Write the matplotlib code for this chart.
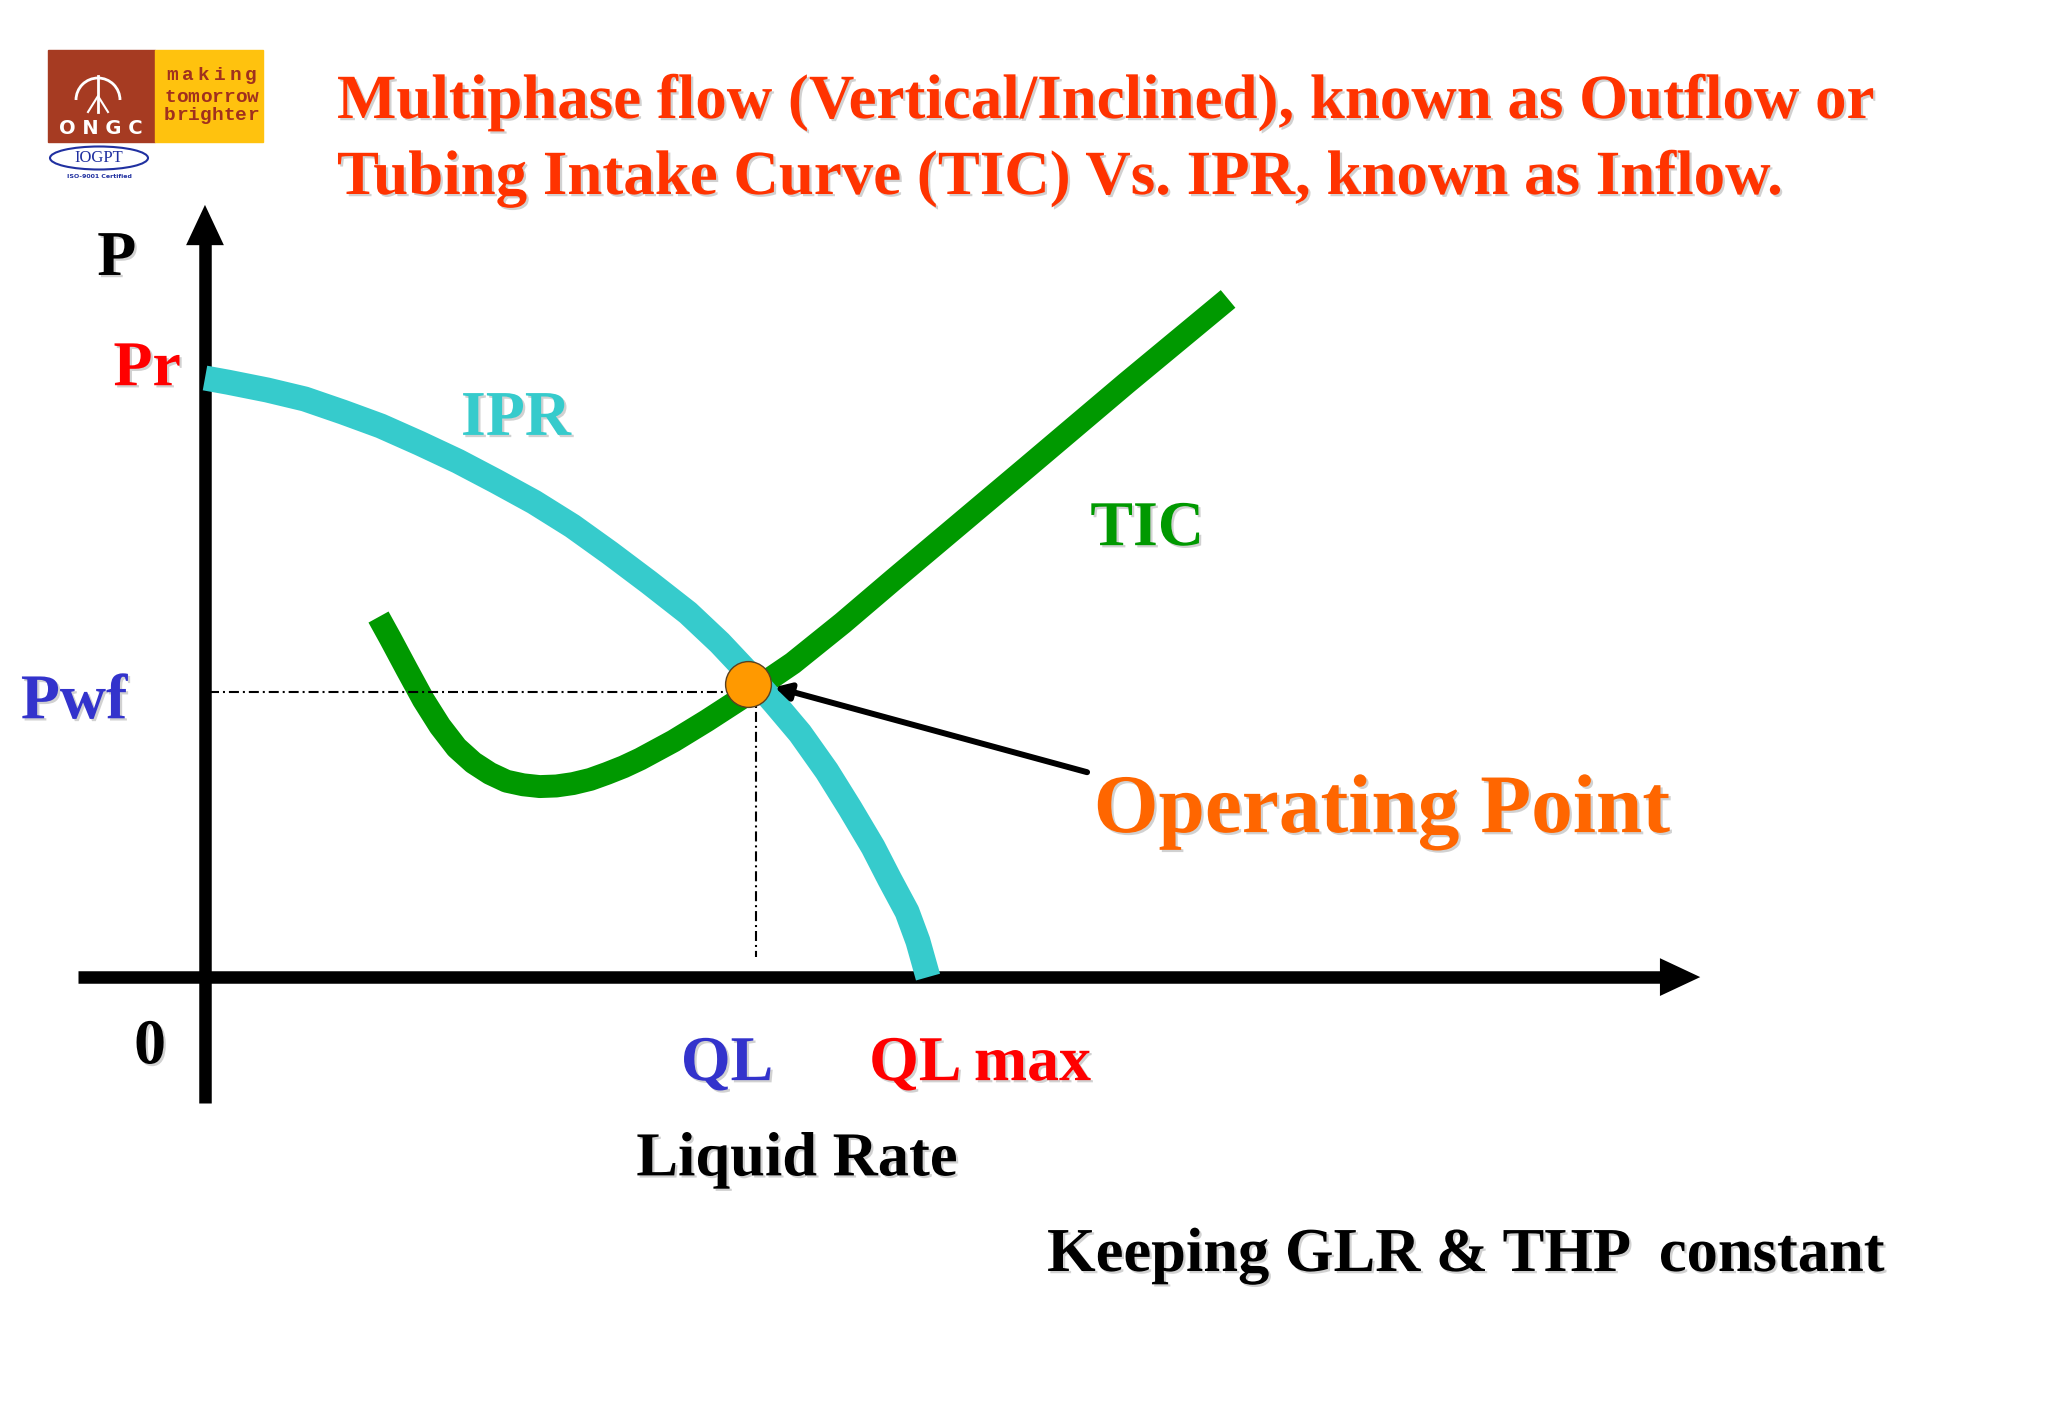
import matplotlib.pyplot as plt
import matplotlib.patheffects as pe
from matplotlib.patches import Rectangle, Ellipse, Arc

# inflow (IPR) curve: liquid rate vs pressure, Pr = 100 and QL max = 100
ipr_q = [0, 3.2, 8.6, 13.8, 19.1, 24.3, 29.7, 35.0, 40.2, 45.5, 50.8, 56.0, 61.4,
         66.8, 71.2, 75.1, 78.8, 82.3, 86.0, 89.2, 92.4, 94.7, 97.1, 98.6, 100]
ipr_p = [100, 99.3, 98.0, 96.5, 94.3, 92.0, 89.1, 86.1, 82.8, 79.3, 75.3, 70.8, 65.9,
         60.8, 55.8, 50.8, 45.7, 40.7, 34.4, 28.2, 21.7, 16.3, 10.9, 6.0, 0]

# outflow / tubing intake curve (TIC)
tic_q = [24.0, 25.6, 27.9, 30.2, 32.5, 34.8, 37.1, 39.4, 41.7, 44.0, 46.3, 48.6,
         50.9, 53.3, 55.6, 57.9, 60.2, 62.5, 64.8, 69.4, 74.0, 81.3, 88.2, 95.2,
         113.7, 127.5, 141.5]
tic_p = [60.1, 56.6, 51.4, 46.3, 41.9, 38.3, 35.8, 34.0, 32.7, 32.1, 31.8, 31.9,
         32.3, 33.0, 34.0, 35.1, 36.4, 37.9, 39.4, 42.8, 46.4, 52.4, 59.1, 66.3,
         85.1, 99.2, 113.2]

# operating point and its guide lines
op_q, op_p = 75.1, 48.9
ql, pwf = 76.2, 47.6

title_lines = ['Multiphase flow (Vertical/Inclined), known as Outflow or',
               'Tubing Intake Curve (TIC) Vs. IPR, known as Inflow.']
note = 'Keeping GLR & THP  constant'

SERIF = 'Liberation Serif'
shadow = [pe.withSimplePatchShadow(offset=(1.6, -1.6), shadow_rgbFace='#9a9a9a', alpha=0.45)]

fig = plt.figure(figsize=(20.48, 14.18), dpi=100)
fig.patch.set_facecolor('white')
ax = fig.add_axes([0, 0, 1, 1])
ax.set_xlim(-28.35, 254.9)
ax.set_ylim(-73.6, 163.1)
ax.axis('off')


def label(x, y, s, color, size=46, ha='center', **kw):
    ax.text(x, y, s, color=color, fontsize=size, family=SERIF, weight='bold',
            ha=ha, va='baseline', path_effects=shadow, **kw)


# axes drawn as thick arrows
ax.plot([0, 0], [-21.0, 124], color='k', lw=9, solid_capstyle='butt', zorder=2)
ax.plot([-17.6, 202], [0, 0], color='k', lw=9, solid_capstyle='butt', zorder=2)
head = dict(arrowstyle='-|>,head_length=1.45,head_width=0.68', mutation_scale=20,
            color='k', lw=0, shrinkA=0, shrinkB=0)
ax.annotate('', xy=(0, 128.9), xytext=(0, 110), arrowprops=head, zorder=2)
ax.annotate('', xy=(206.8, 0), xytext=(190, 0), arrowprops=head, zorder=2)

# curves
ax.plot(tic_q, tic_p, color='#009900', lw=16.5, solid_capstyle='butt',
        solid_joinstyle='round', zorder=3)
ax.plot(ipr_q, ipr_p, color='#36CBCC', lw=18, solid_capstyle='butt',
        solid_joinstyle='round', zorder=4)

# guides to Pwf and QL
dd = (0, (4.8, 1.9, 0.96, 1.9))
ax.plot([0.6, op_q], [pwf, pwf], color='k', lw=1.5, ls=dd, zorder=5)
ax.plot([ql, ql], [pwf, 3.3], color='k', lw=1.5, ls=dd, zorder=5)

ax.plot(op_q, op_p, 'o', ms=33, mfc='#FF9900', mec='#5a4020', mew=1, zorder=6)

ax.annotate('', xy=(78.8, 48.4), xytext=(122.0, 34.2),
            arrowprops=dict(arrowstyle='-|>,head_length=0.45,head_width=0.25',
                            mutation_scale=20, color='k', lw=4.3,
                            shrinkA=0, shrinkB=0), zorder=6)

# labels
label(-12.2, 117.2, 'P', 'black')
label(-8.0, 98.8, 'Pr', '#FF0000')
label(43.0, 90.5, 'IPR', '#36CBCC')
label(130.3, 72.1, 'TIC', '#009900')
label(-18.1, 43.2, 'Pwf', '#3333CC')
label(-7.6, -14.4, '0', 'black')
label(72.2, -17.2, 'QL', '#3333CC')
label(107.2, -17.2, 'QL max', '#FF0000')
label(81.9, -33.1, 'Liquid Rate', 'black', size=45)
label(162.8, 24.2, 'Operating Point', '#FF6600', size=60)

for i, line in enumerate(title_lines):
    fig.text(337 / 2048, 1 - (118 + 76 * i) / 1418, line, color='#FF3300',
             fontsize=45.3, family=SERIF, weight='bold', ha='left', va='baseline',
             path_effects=shadow)
fig.text(1466 / 2048, 1 - 1271 / 1418, note, color='black', fontsize=45,
         family=SERIF, weight='bold', ha='center', va='baseline', path_effects=shadow)

# ONGC / IOGPT logo in the corner
lg = fig.add_axes([40 / 2048, 1 - 190 / 1418, 230 / 2048, 150 / 1418])
lg.set_xlim(40, 270)
lg.set_ylim(190, 40)
lg.axis('off')
lg.add_patch(Rectangle((48, 50), 107, 92, color='#A63B22'))
lg.add_patch(Rectangle((155, 50), 108, 92, color='#FFC20E'))
lg.add_patch(Arc((98, 100), 44, 44, theta1=180, theta2=360, color='white', lw=2))
lg.plot([98, 98], [76, 112], color='white', lw=2)
lg.plot([88, 98, 108], [112, 96, 112], color='white', lw=1.5)
lg.text(101, 129, 'O N G C', color='white', fontsize=14, weight='bold',
        family='DejaVu Sans', ha='center', va='center')
for yy, w in zip([76, 97, 116], ['making', 'tomorrow', 'brighter']):
    n = len(w)
    for k, ch in enumerate(w):
        lg.text(164 + (k + 0.5) * 95 / n, yy, ch, color='#A0301E', fontsize=14,
                weight='bold', family='Liberation Mono', ha='center', va='center')
lg.add_patch(Ellipse((99, 158), 98, 23, fill=False, ec='#2030A0', lw=1.5))
lg.text(99, 158, 'IOGPT', color='#2030A0', fontsize=12, family=SERIF,
        ha='center', va='center')
lg.text(99, 177, 'ISO-9001 Certified', color='#2030A0', fontsize=4.5,
        weight='bold', ha='center', va='center')

plt.savefig('out.png', dpi=100, facecolor='white')
plt.close()
